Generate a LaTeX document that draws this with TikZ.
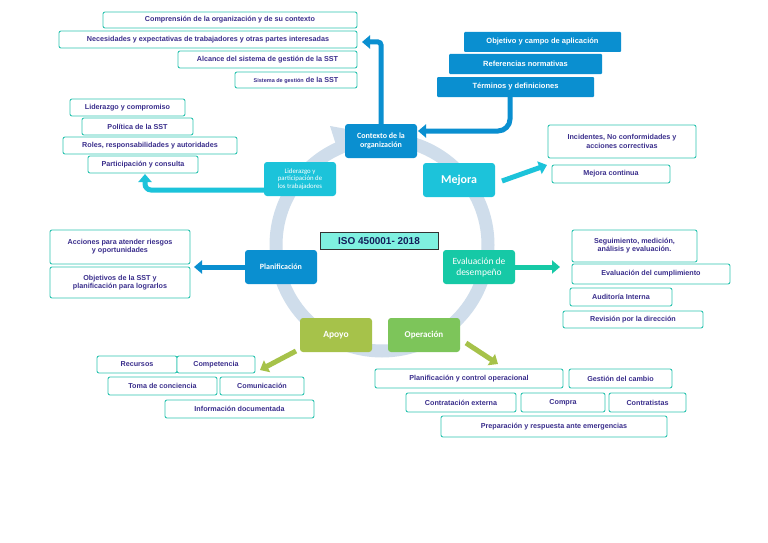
\documentclass[tikz,border=0pt]{standalone}
\usepackage{fontspec}
\setmainfont{Liberation Sans}
\newfontfamily\calfnt{Carlito}
\usetikzlibrary{arrows.meta}
\definecolor{dblue}{HTML}{0A8FD0}
\definecolor{cyanb}{HTML}{1CC3DA}
\definecolor{tealg}{HTML}{16C9A6}
\definecolor{oliv}{HTML}{A6C24A}
\definecolor{lgreen}{HTML}{7DC55A}
\definecolor{ring}{HTML}{CFDDEB}
\definecolor{obord}{HTML}{2EC4B0}
\definecolor{otext}{HTML}{3A2E8C}
\definecolor{isofill}{HTML}{7FF0E0}
\definecolor{isotext}{HTML}{141E5A}
\tikzset{
 ob/.style={draw=obord,line width=0.9pt,rounded corners=2pt,fill=white,text=otext,font=\fontsize{7.2}{8.2}\selectfont\bfseries,inner sep=1pt,align=center},
 cb/.style={rounded corners=3pt,text=white,font=\calfnt\fontsize{8}{9}\selectfont\bfseries,inner sep=1pt,align=center,minimum width=72pt,minimum height=34pt},
 fb/.style={fill=dblue,rounded corners=1pt,text=white,font=\fontsize{7.5}{8}\selectfont\bfseries,minimum height=20pt,minimum width=157pt},
 ar/.style={line width=5pt,-{Triangle[length=8pt,width=13pt]}},
}
\begin{document}
\begin{tikzpicture}[x=1pt,y=-1pt]
\useasboundingbox (0,0) rectangle (768,543);
\fill[white] (0,0) rectangle (768,543);
% ring
\draw[ring,line width=13pt] (382,245) circle (106);
\fill[ring] (352,130) -- (330,126) -- (337,148) -- cycle;
% cycle nodes
\node[cb,fill=dblue] (ctx) at (381,141) {Contexto de la\\organización};
\node[cb,fill=cyanb,font=\calfnt\fontsize{6.8}{7.6}\selectfont] (lid) at (300,179) {Liderazgo y\\participación de\\los trabajadores};
\node[cb,fill=cyanb,font=\calfnt\fontsize{12}{13}\selectfont\bfseries] (mej) at (459,180) {Mejora};
\node[cb,fill=dblue] (pla) at (281,267) {Planificación};
\node[cb,fill=tealg,font=\calfnt\fontsize{9.5}{11}\selectfont] (eva) at (479,267) {Evaluación de\\desempeño};
\node[cb,fill=oliv,font=\calfnt\fontsize{9.5}{11}\selectfont\bfseries] (apo) at (336,335) {Apoyo};
\node[cb,fill=lgreen,font=\calfnt\fontsize{9}{11}\selectfont\bfseries] (ope) at (424,335) {Operación};
\node[draw=black!80,line width=1pt,fill=isofill,text=isotext,font=\fontsize{10}{11}\selectfont\bfseries,minimum width=118pt,minimum height=17pt,inner sep=0pt] (iso) at (379,241) {ISO 450001- 2018};
% outlined boxes
\node[ob,minimum width=254pt,minimum height=16pt] (c1) at (230,20) {Comprensión de la organización y de su contexto};
\node[ob,minimum width=298pt,minimum height=17pt] (c2) at (208,39.5) {Necesidades y expectativas de trabajadores y otras partes interesadas};
\node[ob,minimum width=179pt,minimum height=17pt] (c3) at (267.5,59.5) {Alcance del sistema de gestión de la SST};
\node[ob,minimum width=122pt,minimum height=16pt] (c4) at (296,80) {{\fontsize{5.5}{6}\selectfont Sistema de gestión} de la SST};
\node[ob,minimum width=115pt,minimum height=17pt] (l1) at (127.5,107.5) {Liderazgo y compromiso};
\node[ob,minimum width=111pt,minimum height=17pt] (l2) at (137.5,126.5) {Política de la SST};
\node[ob,minimum width=174pt,minimum height=17pt] (l3) at (150,145.5) {Roles, responsabilidades y autoridades};
\node[ob,minimum width=110pt,minimum height=17pt] (l4) at (143,164.5) {Participación y consulta};
\node[ob,minimum width=140pt,minimum height=34pt] (p1) at (120,247) {Acciones para atender riesgos\\y oportunidades};
\node[ob,minimum width=140pt,minimum height=31pt] (p2) at (120,282.5) {Objetivos de la SST y\\planificación para lograrlos};
\node[ob,minimum width=148pt,minimum height=33pt] (m1) at (622,141.5) {Incidentes, No conformidades y\\acciones correctivas};
\node[ob,minimum width=118pt,minimum height=18pt] (m2) at (611,174) {Mejora continua};
\node[ob,minimum width=125pt,minimum height=32pt] (e1) at (634.5,246) {Seguimiento, medición,\\análisis y evaluación.};
\node[ob,minimum width=158pt,minimum height=20pt] (e2) at (651,274) {Evaluación del cumplimiento};
\node[ob,minimum width=102pt,minimum height=18pt] (e3) at (621,297) {Auditoría Interna};
\node[ob,minimum width=140pt,minimum height=17pt] (e4) at (633,319.5) {Revisión por la dirección};
\node[ob,minimum width=80pt,minimum height=17pt] (a1) at (137,364.5) {Recursos};
\node[ob,minimum width=78pt,minimum height=17pt] (a2) at (216,364.5) {Competencia};
\node[ob,minimum width=109pt,minimum height=18pt] (a3) at (162.5,386) {Toma de conciencia};
\node[ob,minimum width=84pt,minimum height=18pt] (a4) at (262,386) {Comunicación};
\node[ob,minimum width=149pt,minimum height=18pt] (a5) at (239.5,409) {Información documentada};
\node[ob,minimum width=188pt,minimum height=19pt] (o1) at (469,378.5) {Planificación y control operacional};
\node[ob,minimum width=103pt,minimum height=19pt] (o2) at (620.5,378.5) {Gestión del cambio};
\node[ob,minimum width=110pt,minimum height=19pt] (o3) at (461,402.5) {Contratación externa};
\node[ob,minimum width=84pt,minimum height=19pt] (o4) at (563,402.5) {Compra};
\node[ob,minimum width=77pt,minimum height=19pt] (o5) at (647.5,402.5) {Contratistas};
\node[ob,minimum width=226pt,minimum height=21pt] (o6) at (554,426.5) {Preparación y respuesta ante emergencias};
% filled top right
\node[fb] (t1) at (542.5,42) {Objetivo y campo de aplicación};
\node[fb,minimum width=153pt] (t2) at (525.5,64) {Referencias normativas};
\node[fb] (t3) at (515.5,87) {Términos y definiciones};
% arrows
\coordinate (h1) at (362,42);
\draw[ar,dblue,rounded corners=3pt] (ctx.north) |- (h1);
\coordinate (h2) at (418,131);
\draw[ar,dblue,rounded corners=12pt] (t3.south -| 510,0) -- (510,131) -- (h2);
\coordinate (h3) at (145,174);
\draw[ar,cyanb,rounded corners=6pt] (lid.west |- 0,190) -- (145,190) -- (h3);
\coordinate (h4) at (547,165);
\draw[ar,cyanb] (502,181) -- (h4);
\coordinate (h5) at (194,267);
\draw[ar,dblue] (pla.west) -- (h5);
\coordinate (h6) at (560,267);
\draw[ar,tealg] (eva.east) -- (h6);
\coordinate (h7) at (260,370);
\draw[ar,oliv] (296,351) -- (h7);
\coordinate (h8) at (498,364);
\draw[ar,oliv] (466,343) -- (h8);
\end{tikzpicture}
\end{document}
